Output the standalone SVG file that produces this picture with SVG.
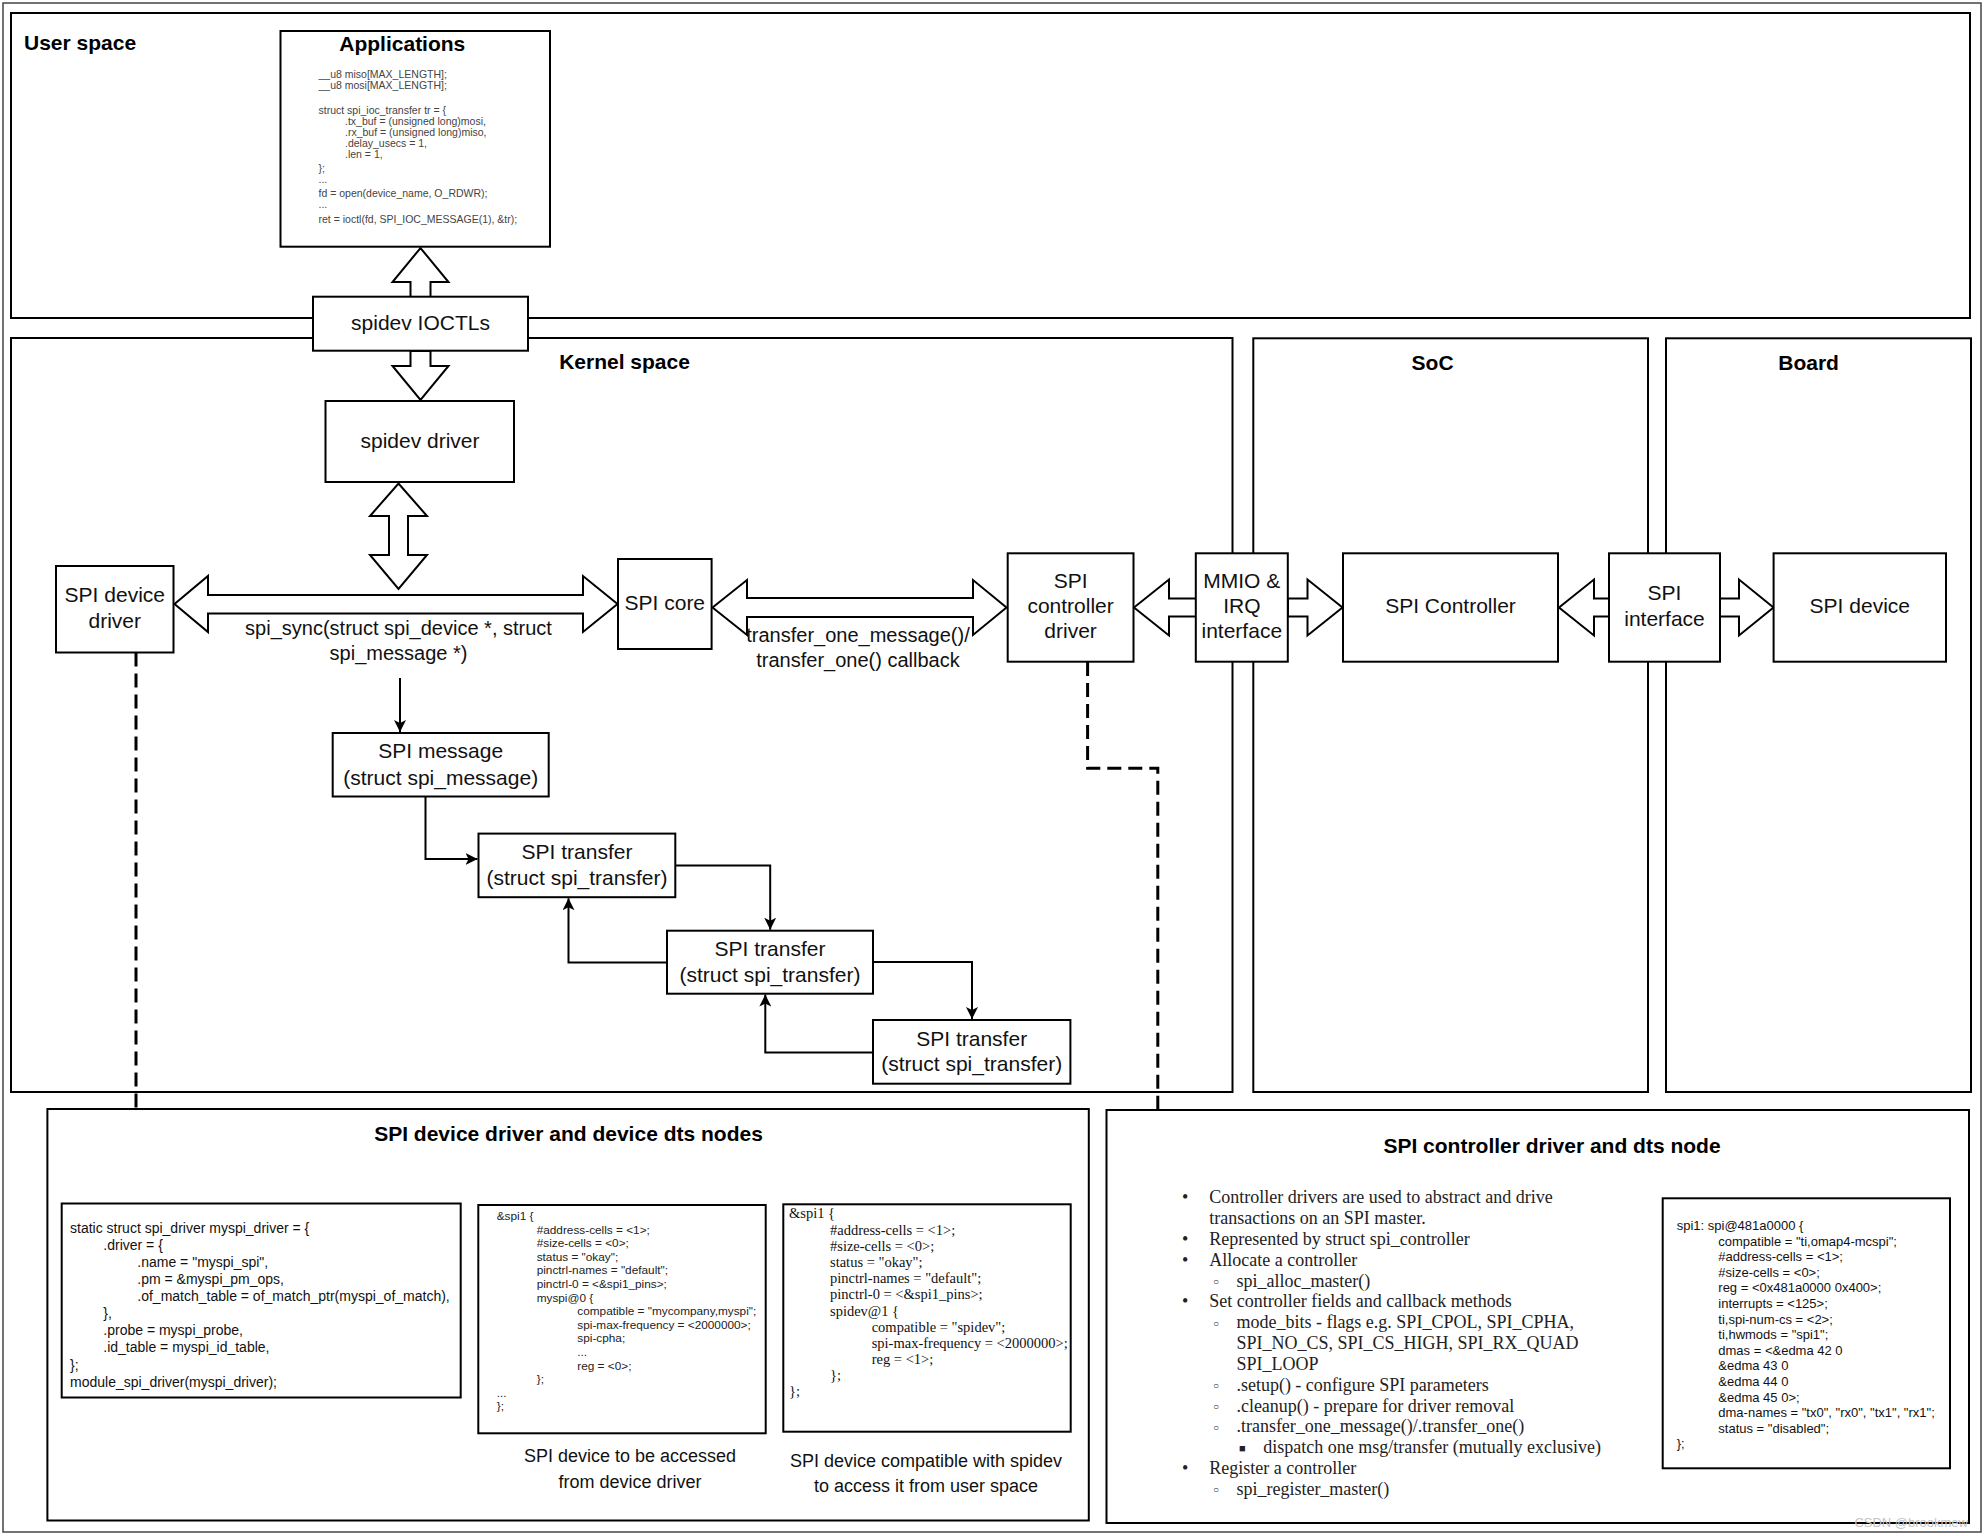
<svg xmlns="http://www.w3.org/2000/svg" width="1984" height="1536" viewBox="0 0 1984 1536">
<style>
.frame{fill:none;stroke:#000;stroke-width:2}
.box{fill:#fff;stroke:#000;stroke-width:2}
.blk{fill:#fff;stroke:#000;stroke-width:2;stroke-linejoin:miter}
.lbl{font-family:"Liberation Sans",Arial,sans-serif;font-size:21px;fill:#111;text-anchor:middle}
.elbl{font-family:"Liberation Sans",Arial,sans-serif;font-size:20px;fill:#111;text-anchor:middle}
.hd{font-family:"Liberation Sans",Arial,sans-serif;font-size:21px;font-weight:bold;fill:#000}
.hdc{font-family:"Liberation Sans",Arial,sans-serif;font-size:21px;font-weight:bold;fill:#000;text-anchor:middle}
.app{font-family:"Liberation Sans",Arial,sans-serif;font-size:10.5px;fill:#444}
.c14{font-family:"Liberation Sans",Arial,sans-serif;font-size:14px;fill:#111}
.c12{font-family:"Liberation Sans",Arial,sans-serif;font-size:11.8px;fill:#222}
.s14{font-family:"Liberation Serif","Times New Roman",serif;font-size:14.5px;fill:#111}
.c13{font-family:"Liberation Sans",Arial,sans-serif;font-size:13px;fill:#111}
.cap{font-family:"Liberation Sans",Arial,sans-serif;font-size:18px;fill:#111;text-anchor:middle}
.bl{font-family:"Liberation Serif","Times New Roman",serif;font-size:18px;fill:#222}
.conn{fill:none;stroke:#000;stroke-width:2}
.dash{fill:none;stroke:#000;stroke-width:3;stroke-dasharray:14 7}
</style>
<defs>
<marker id="arr" markerUnits="userSpaceOnUse" markerWidth="14" markerHeight="12" refX="12" refY="6" orient="auto">
<path d="M0,0 L12,6 L0,12 L3,6 Z" fill="#000"/>
</marker>
</defs>
<rect width="1984" height="1536" fill="#fff"/>

<g id="frames">
<rect x="3" y="3" width="1978" height="1529" fill="none" stroke="#444" stroke-width="1.5"/>
<rect id="user-space" class="frame" x="11" y="13" width="1959" height="305"/>
<rect id="kernel-space" class="frame" x="11" y="338" width="1221.5" height="754"/>
<rect id="soc" class="frame" x="1253.3" y="338.3" width="394.7" height="753.7"/>
<rect id="board" class="frame" x="1666" y="338.3" width="305" height="753.7"/>
<text class="hd" x="24" y="50">User space</text>
<text class="hdc" x="624.5" y="369">Kernel space</text>
<text class="hdc" x="1432.6" y="370">SoC</text>
<text class="hdc" x="1808.6" y="370">Board</text>
</g>

<g id="connectors">
<path class="blk" d="M410.5,297 L410.5,282 L392.5,282 L420.5,248 L448.5,282 L430.5,282 L430.5,297 Z"/>
<path class="blk" d="M410.5,351 L410.5,366 L392.5,366 L420.5,400 L448.5,366 L430.5,366 L430.5,351 Z"/>
<path class="blk" d="M398.5,483.5 L427,516 L408,516 L408,555 L427,555 L398.5,589 L370,555 L389,555 L389,516 L370,516 Z"/>
<path class="blk" d="M174.5,604 L208,576 L208,595 L583,595 L583,576 L617.5,604 L583,632 L583,613.5 L208,613.5 L208,632 Z"/>
<path class="blk" d="M712.5,607.5 L747,580 L747,598 L973,598 L973,580 L1006.5,607.5 L973,635 L973,617 L747,617 L747,635 Z"/>
<path class="blk" d="M1134,607.5 L1169,579.5 L1169,598.5 L1196,598.5 L1196,616.5 L1169,616.5 L1169,635.5 Z"/>
<path class="blk" d="M1288,598.5 L1307.5,598.5 L1307.5,579.5 L1342.5,607.5 L1307.5,635.5 L1307.5,616.5 L1288,616.5 Z"/>
<path class="blk" d="M1559,607.5 L1594,579.5 L1594,598.5 L1609,598.5 L1609,616.5 L1594,616.5 L1594,635.5 Z"/>
<path class="blk" d="M1720,598.5 L1739,598.5 L1739,579.5 L1773.5,607.5 L1739,635.5 L1739,616.5 L1720,616.5 Z"/>
<text class="elbl" x="398.5" y="635">spi_sync(struct spi_device *, struct</text>
<text class="elbl" x="398.5" y="660">spi_message *)</text>
<text class="elbl" x="858" y="641.7">transfer_one_message()/</text>
<text class="elbl" x="858" y="666.7">transfer_one() callback</text>
<path class="conn" d="M400,678 L400,732" marker-end="url(#arr)"/>
<path class="conn" d="M425.5,796.5 L425.5,859 L477.5,859" marker-end="url(#arr)"/>
<path class="conn" d="M675.3,865.6 L770.2,865.6 L770.2,929.7" marker-end="url(#arr)"/>
<path class="conn" d="M667,962.5 L568.5,962.5 L568.5,898.2" marker-end="url(#arr)"/>
<path class="conn" d="M873,962 L972,962 L972,1019" marker-end="url(#arr)"/>
<path class="conn" d="M873,1052.5 L765.3,1052.5 L765.3,994.6" marker-end="url(#arr)"/>
<path class="dash" d="M136,652.5 L136,1109"/>
<path class="dash" d="M1087.6,662 L1087.6,768.3 L1157.8,768.3 L1157.8,1110"/>
</g>

<g id="applications">
<rect class="box" x="280.5" y="31" width="269.5" height="215.7"/>
<text class="hdc" x="402.3" y="51">Applications</text>
<text class="app" x="318.5" y="77.5">__u8 miso[MAX_LENGTH];</text>
<text class="app" x="318.5" y="88.5">__u8 mosi[MAX_LENGTH];</text>
<text class="app" x="318.5" y="114">struct spi_ioc_transfer tr = {</text>
<text class="app" x="345" y="125">.tx_buf = (unsigned long)mosi,</text>
<text class="app" x="345" y="136">.rx_buf = (unsigned long)miso,</text>
<text class="app" x="345" y="147.3">.delay_usecs = 1,</text>
<text class="app" x="345" y="158.3">.len = 1,</text>
<text class="app" x="318.5" y="171.5">};</text>
<text class="app" x="318.5" y="182.5">...</text>
<text class="app" x="318.5" y="196.5">fd = open(device_name, O_RDWR);</text>
<text class="app" x="318.5" y="208">...</text>
<text class="app" x="318.5" y="222.5">ret = ioctl(fd, SPI_IOC_MESSAGE(1), &amp;tr);</text>
</g>

<g id="spidev-ioctls">
<rect class="box" x="313" y="296.7" width="215" height="54"/>
<text class="lbl" x="420.5" y="330">spidev IOCTLs</text>
</g>

<g id="spidev-driver">
<rect class="box" x="325.5" y="401" width="188.5" height="81"/>
<text class="lbl" x="420" y="448.3">spidev driver</text>
</g>

<g id="spi-device-driver">
<rect class="box" x="56" y="566" width="117.5" height="86.5"/>
<text class="lbl" x="114.8" y="601.7">SPI device</text>
<text class="lbl" x="114.8" y="628.3">driver</text>
</g>

<g id="spi-core">
<rect class="box" x="618" y="559" width="93.6" height="90"/>
<text class="lbl" x="664.8" y="610">SPI core</text>
</g>

<g id="spi-controller-driver">
<rect class="box" x="1007.7" y="553.3" width="125.8" height="108.4"/>
<text class="lbl" x="1070.6" y="588">SPI</text>
<text class="lbl" x="1070.6" y="613">controller</text>
<text class="lbl" x="1070.6" y="638">driver</text>
</g>

<g id="mmio-irq">
<rect class="box" x="1195.8" y="553.3" width="92" height="108.4"/>
<text class="lbl" x="1241.8" y="588">MMIO &amp;</text>
<text class="lbl" x="1241.8" y="613">IRQ</text>
<text class="lbl" x="1241.8" y="638">interface</text>
</g>

<g id="spi-controller">
<rect class="box" x="1343" y="553.3" width="215" height="108.4"/>
<text class="lbl" x="1450.5" y="613">SPI Controller</text>
</g>

<g id="spi-interface">
<rect class="box" x="1609" y="553.3" width="111" height="108.4"/>
<text class="lbl" x="1664.5" y="600">SPI</text>
<text class="lbl" x="1664.5" y="626">interface</text>
</g>

<g id="spi-device">
<rect class="box" x="1773.6" y="553.3" width="172.4" height="108.4"/>
<text class="lbl" x="1859.8" y="613">SPI device</text>
</g>

<g id="spi-message">
<rect class="box" x="332.7" y="733" width="216" height="63.5"/>
<text class="lbl" x="440.7" y="758.3">SPI message</text>
<text class="lbl" x="440.7" y="784.5">(struct spi_message)</text>
</g>

<g id="spi-transfer-1">
<rect class="box" x="478.5" y="833.6" width="196.8" height="63.6"/>
<text class="lbl" x="577" y="859">SPI transfer</text>
<text class="lbl" x="577" y="884.5">(struct spi_transfer)</text>
</g>

<g id="spi-transfer-2">
<rect class="box" x="667" y="930.7" width="206" height="63"/>
<text class="lbl" x="770" y="956">SPI transfer</text>
<text class="lbl" x="770" y="981.6">(struct spi_transfer)</text>
</g>

<g id="spi-transfer-3">
<rect class="box" x="873" y="1020" width="197.4" height="63.7"/>
<text class="lbl" x="971.7" y="1045.6">SPI transfer</text>
<text class="lbl" x="971.7" y="1071">(struct spi_transfer)</text>
</g>

<g id="device-driver-dts">
<rect class="box" x="47.4" y="1109" width="1041.4" height="411.5"/>
<text class="hdc" x="568.5" y="1141">SPI device driver and device dts nodes</text>
</g>

<g id="spi-driver-code">
<rect class="box" x="61.7" y="1203.5" width="399" height="194"/>
<text class="c14" x="70" y="1232.7">static struct spi_driver myspi_driver = {</text>
<text class="c14" x="103.3" y="1249.8">.driver = {</text>
<text class="c14" x="137.3" y="1266.9">.name = "myspi_spi",</text>
<text class="c14" x="137.3" y="1284">.pm = &amp;myspi_pm_ops,</text>
<text class="c14" x="137.3" y="1301.1">.of_match_table = of_match_ptr(myspi_of_match),</text>
<text class="c14" x="103.3" y="1318.2">},</text>
<text class="c14" x="103.3" y="1335.3">.probe = myspi_probe,</text>
<text class="c14" x="103.3" y="1352.4">.id_table = myspi_id_table,</text>
<text class="c14" x="70" y="1369.5">};</text>
<text class="c14" x="70" y="1386.6">module_spi_driver(myspi_driver);</text>
</g>

<g id="dts-myspi">
<rect class="box" x="478.3" y="1205" width="287.4" height="228.3"/>
<text class="c12" x="496.7" y="1220">&amp;spi1 {</text>
<text class="c12" x="536.7" y="1233.6">#address-cells = &lt;1&gt;;</text>
<text class="c12" x="536.7" y="1247.2">#size-cells = &lt;0&gt;;</text>
<text class="c12" x="536.7" y="1260.8">status = "okay";</text>
<text class="c12" x="536.7" y="1274.4">pinctrl-names = "default";</text>
<text class="c12" x="536.7" y="1288">pinctrl-0 = &lt;&amp;spi1_pins&gt;;</text>
<text class="c12" x="536.7" y="1301.6">myspi@0 {</text>
<text class="c12" x="577.3" y="1315.2">compatible = "mycompany,myspi";</text>
<text class="c12" x="577.3" y="1328.8">spi-max-frequency = &lt;2000000&gt;;</text>
<text class="c12" x="577.3" y="1342.4">spi-cpha;</text>
<text class="c12" x="577.3" y="1356">...</text>
<text class="c12" x="577.3" y="1369.6">reg = &lt;0&gt;;</text>
<text class="c12" x="536.7" y="1383.2">};</text>
<text class="c12" x="496.7" y="1396.8">...</text>
<text class="c12" x="496.7" y="1410.4">};</text>
<text class="cap" x="630" y="1461.7">SPI device to be accessed</text>
<text class="cap" x="630" y="1488.3">from device driver</text>
</g>

<g id="dts-spidev">
<rect class="box" x="783.3" y="1204.3" width="287.4" height="227.4"/>
<text class="s14" x="789" y="1218">&amp;spi1 {</text>
<text class="s14" x="830" y="1235">#address-cells = &lt;1&gt;;</text>
<text class="s14" x="830" y="1251.1">#size-cells = &lt;0&gt;;</text>
<text class="s14" x="830" y="1267.2">status = "okay";</text>
<text class="s14" x="830" y="1283.3">pinctrl-names = "default";</text>
<text class="s14" x="830" y="1299.4">pinctrl-0 = &lt;&amp;spi1_pins&gt;;</text>
<text class="s14" x="830" y="1315.5">spidev@1 {</text>
<text class="s14" x="871.7" y="1331.6">compatible = "spidev";</text>
<text class="s14" x="871.7" y="1347.7">spi-max-frequency = &lt;2000000&gt;;</text>
<text class="s14" x="871.7" y="1363.8">reg = &lt;1&gt;;</text>
<text class="s14" x="830" y="1379.9">};</text>
<text class="s14" x="789" y="1396">};</text>
<text class="cap" x="926" y="1466.7">SPI device compatible with spidev</text>
<text class="cap" x="926" y="1492">to access it from user space</text>
</g>

<g id="controller-driver-dts">
<rect class="box" x="1106.5" y="1110" width="862.5" height="413"/>
<text class="hdc" x="1552" y="1152.7">SPI controller driver and dts node</text>
<text class="bl" x="1182" y="1203.3">•</text>
<text class="bl" x="1209.3" y="1203.3">Controller drivers are used to abstract and drive</text>
<text class="bl" x="1209.3" y="1224">transactions on an SPI master.</text>
<text class="bl" x="1182" y="1245">•</text>
<text class="bl" x="1209.3" y="1245">Represented by struct spi_controller</text>
<text class="bl" x="1182" y="1265.7">•</text>
<text class="bl" x="1209.3" y="1265.7">Allocate a controller</text>
<text class="bl" x="1213" y="1285" style="font-size:10px">○</text>
<text class="bl" x="1236.4" y="1286.7">spi_alloc_master()</text>
<text class="bl" x="1182" y="1307.3">•</text>
<text class="bl" x="1209.3" y="1307.3">Set controller fields and callback methods</text>
<text class="bl" x="1213" y="1326.6" style="font-size:10px">○</text>
<text class="bl" x="1236.4" y="1328.3">mode_bits - flags e.g. SPI_CPOL, SPI_CPHA,</text>
<text class="bl" x="1236.4" y="1349">SPI_NO_CS, SPI_CS_HIGH, SPI_RX_QUAD</text>
<text class="bl" x="1236.4" y="1370">SPI_LOOP</text>
<text class="bl" x="1213" y="1389" style="font-size:10px">○</text>
<text class="bl" x="1236.4" y="1390.7">.setup() - configure SPI parameters</text>
<text class="bl" x="1213" y="1410" style="font-size:10px">○</text>
<text class="bl" x="1236.4" y="1411.7">.cleanup() - prepare for driver removal</text>
<text class="bl" x="1213" y="1430.6" style="font-size:10px">○</text>
<text class="bl" x="1236.4" y="1432.3">.transfer_one_message()/.transfer_one()</text>
<text class="bl" x="1239" y="1452" style="font-size:11px">■</text>
<text class="bl" x="1263.2" y="1453.3">dispatch one msg/transfer (mutually exclusive)</text>
<text class="bl" x="1182" y="1474">•</text>
<text class="bl" x="1209.3" y="1474">Register a controller</text>
<text class="bl" x="1213" y="1493.3" style="font-size:10px">○</text>
<text class="bl" x="1236.4" y="1495">spi_register_master()</text>
</g>

<g id="dts-spi1">
<rect class="box" x="1662.7" y="1198.3" width="287.3" height="270"/>
<text class="c13" x="1676.7" y="1230">spi1: spi@481a0000 {</text>
<text class="c13" x="1718.3" y="1245.6">compatible = "ti,omap4-mcspi";</text>
<text class="c13" x="1718.3" y="1261.2">#address-cells = &lt;1&gt;;</text>
<text class="c13" x="1718.3" y="1276.8">#size-cells = &lt;0&gt;;</text>
<text class="c13" x="1718.3" y="1292.4">reg = &lt;0x481a0000 0x400&gt;;</text>
<text class="c13" x="1718.3" y="1308">interrupts = &lt;125&gt;;</text>
<text class="c13" x="1718.3" y="1323.6">ti,spi-num-cs = &lt;2&gt;;</text>
<text class="c13" x="1718.3" y="1339.2">ti,hwmods = "spi1";</text>
<text class="c13" x="1718.3" y="1354.8">dmas = &lt;&amp;edma 42 0</text>
<text class="c13" x="1718.3" y="1370.4">&amp;edma 43 0</text>
<text class="c13" x="1718.3" y="1386">&amp;edma 44 0</text>
<text class="c13" x="1718.3" y="1401.6">&amp;edma 45 0&gt;;</text>
<text class="c13" x="1718.3" y="1417.2">dma-names = "tx0", "rx0", "tx1", "rx1";</text>
<text class="c13" x="1718.3" y="1432.8">status = "disabled";</text>
<text class="c13" x="1676.7" y="1448.4">};</text>
</g>

<text x="1968" y="1527" font-family="Liberation Sans, Arial, sans-serif" font-size="13" fill="#c4c4c4" text-anchor="end">CSDN @brookmew</text>
</svg>
